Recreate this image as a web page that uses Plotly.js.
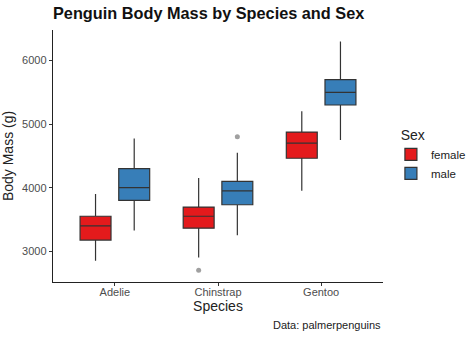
<!DOCTYPE html>
<html><head><meta charset="utf-8">
<script src="https://cdn.plot.ly/plotly-3.0.1.min.js"></script>
<style>html,body{margin:0;padding:0;background:#fff}#chart{width:474px;height:338px}</style>
</head><body><div id="chart"></div>
<script>
const species = ["Adelie", "Chinstrap", "Gentoo"];
const femaleMin = [2850, 2900, 3950];
const femaleQ1 = [3175, 3362.5, 4462.5];
const femaleMedian = [3400, 3550, 4700];
const femaleQ3 = [3550, 3695, 4875];
const femaleMax = [3900, 4150, 5200];
const femaleOutlierSpecies = ["Chinstrap"];
const femaleOutliers = [2700];
const maleMin = [3325, 3250, 4750];
const maleQ1 = [3800, 3731.25, 5300];
const maleMedian = [4000, 3950, 5500];
const maleQ3 = [4300, 4100, 5700];
const maleMax = [4775, 4550, 6300];
const maleOutlierSpecies = ["Chinstrap"];
const maleOutliers = [4800];

function boxTrace(name, color, lo, q1, med, q3, hi) {
  return {
    type: "box", name: name, x: species, offsetgroup: name,
    q1: q1, median: med, q3: q3, lowerfence: lo, upperfence: hi,
    boxpoints: false,
    fillcolor: color,
    line: {color: "#333333", width: 1.2},
    whiskerwidth: 0, hoverinfo: "skip"
  };
}
function outlierTrace(name, xs, ys) {
  return {
    type: "scatter", mode: "markers", x: xs, y: ys, offsetgroup: name,
    marker: {color: "#a0a0a0", size: 5}, showlegend: false, hoverinfo: "skip"
  };
}
const data = [
  boxTrace("female", "#E41A1C", femaleMin, femaleQ1, femaleMedian, femaleQ3, femaleMax),
  boxTrace("male", "#377EB8", maleMin, maleQ1, maleMedian, maleQ3, maleMax),
  outlierTrace("female", femaleOutlierSpecies, femaleOutliers),
  outlierTrace("male", maleOutlierSpecies, maleOutliers)
];
const layout = {
  width: 474, height: 338,
  margin: {l: 53, r: 91, t: 30, b: 56, autoexpand: false},
  paper_bgcolor: "#fff", plot_bgcolor: "#fff",
  font: {family: "Liberation Sans, Arial, sans-serif", color: "#222"},
  boxmode: "group", boxgap: 0.25, boxgroupgap: 0.2,
  scattermode: "group", scattergap: 0.25,
  title: {text: "<b>Penguin Body Mass by Species and Sex</b>", font: {size: 16.3, color: "#111"},
          x: 53/474, xanchor: "left", y: 1 - 13/338, yanchor: "middle"},
  xaxis: {
    type: "category", categoryarray: species, range: [-0.6, 2.6], showgrid: false, zeroline: false,
    showline: true, linecolor: "#222", linewidth: 1.2,
    ticks: "outside", ticklen: 3, tickcolor: "#333", tickwidth: 1,
    ticklabelstandoff: -3,
    tickfont: {size: 11, color: "#4d4d4d"},
    title: {text: "Species", font: {size: 14, color: "#222"}, standoff: 0}
  },
  yaxis: {
    range: [2516, 6480], showgrid: false, zeroline: false,
    showline: true, linecolor: "#222", linewidth: 1.2,
    ticks: "outside", ticklen: 3, tickcolor: "#333", tickwidth: 1,
    tickvals: [3000, 4000, 5000, 6000],
    tickfont: {size: 11, color: "#4d4d4d"},
    title: {text: "Body Mass (g)", font: {size: 14, color: "#222"}, standoff: 6}
  },
  legend: {
    x: 1.024, xanchor: "left", y: 0.636, yanchor: "top",
    title: {text: "&nbsp;&nbsp;Sex", font: {size: 14, color: "#222"}},
    font: {size: 11.5, color: "#222"}, tracegroupgap: 2
  },
  showlegend: true,
  annotations: [{
    text: "Data: palmerpenguins", xref: "paper", yref: "paper",
    x: 1, xanchor: "right", y: -(325-282)/252, yanchor: "middle",
    showarrow: false, font: {size: 11, color: "#222"}
  }]
};
Plotly.newPlot("chart", data, layout, {staticPlot: true, displayModeBar: false});
</script></body></html>
